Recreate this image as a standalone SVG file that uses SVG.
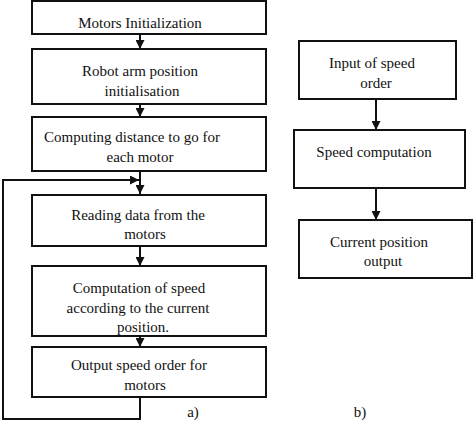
<svg xmlns="http://www.w3.org/2000/svg" width="474" height="429" viewBox="0 0 474 429">
<style>
.box{fill:#fff;stroke:#111;stroke-width:2}
.ln{fill:none;stroke:#111;stroke-width:2}
.t{font-size:15px;fill:#111;text-anchor:middle}
</style>
<defs>
<marker id="ah" viewBox="0 0 10 10" refX="10" refY="5" markerWidth="9" markerHeight="9" markerUnits="userSpaceOnUse" orient="auto">
<path d="M0,0 L10,5 L0,10 Z" fill="#111"/>
</marker>
</defs>
<rect width="474" height="429" fill="#fff"/>
<g id="connectors">
<line class="ln" x1="140" y1="34" x2="140" y2="49" marker-end="url(#ah)"/>
<line class="ln" x1="140" y1="104" x2="140" y2="117" marker-end="url(#ah)"/>
<line class="ln" x1="140" y1="171" x2="140" y2="194" marker-end="url(#ah)"/>
<line class="ln" x1="140" y1="246" x2="140" y2="266" marker-end="url(#ah)"/>
<line class="ln" x1="140" y1="336" x2="140" y2="347" marker-end="url(#ah)"/>
<polyline class="ln" points="140,397 140,419 3,419 3,180 139,180" marker-end="url(#ah)"/>
<line class="ln" x1="376" y1="99" x2="376" y2="130" marker-end="url(#ah)"/>
<line class="ln" x1="376" y1="188" x2="376" y2="220" marker-end="url(#ah)"/>
</g>
<g class="t" font-family="Liberation Serif, Tinos, Times New Roman, DejaVu Serif, serif">
<g id="n1"><rect class="box" x="32" y="1" width="234" height="33"/><text x="140" y="28">Motors Initialization</text></g>
<g id="n2"><rect class="box" x="32" y="49" width="234" height="55"/><text x="140" y="76">Robot arm position</text><text x="142" y="96">initialisation</text></g>
<g id="n3"><rect class="box" x="32" y="117" width="234" height="54"/><text x="132" y="142">Computing distance to go for</text><text x="140" y="162">each motor</text></g>
<g id="n4"><rect class="box" x="32" y="195" width="234" height="51"/><text x="138" y="220">Reading data from the</text><text x="145" y="239">motors</text></g>
<g id="n5"><rect class="box" x="32" y="266" width="234" height="70"/><text x="139" y="293">Computation of speed</text><text x="138" y="313">according to the current</text><text x="143" y="332">position.</text></g>
<g id="n6"><rect class="box" x="32" y="347" width="234" height="50"/><text x="139" y="370">Output speed order for</text><text x="145" y="390">motors</text></g>
<g id="m1"><rect class="box" x="299" y="41" width="157" height="58"/><text x="372" y="68">Input of speed</text><text x="376" y="88">order</text></g>
<g id="m2"><rect class="box" x="294" y="130" width="171" height="58"/><text x="374" y="157">Speed computation</text></g>
<g id="m3"><rect class="box" x="299" y="220" width="173" height="58"/><text x="379" y="247">Current position</text><text x="383" y="266">output</text></g>
<text x="193" y="417">a)</text>
<text x="360" y="417">b)</text>
</g>
</svg>
